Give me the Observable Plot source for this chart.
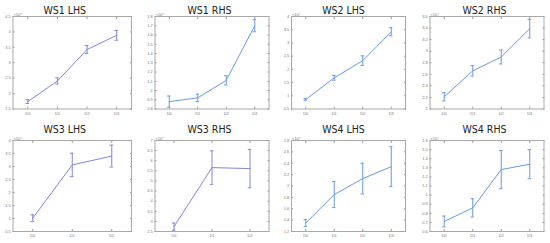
<!DOCTYPE html>
<html><head><meta charset="utf-8">
<script src="https://cdn.jsdelivr.net/npm/d3@7"></script>
<script src="https://cdn.jsdelivr.net/npm/@observablehq/plot@0.6"></script>
<style>
body{margin:0;background:#fff;}
#chart{position:relative;width:550px;height:243px;overflow:hidden;background:#fff;}
#chart > div{position:absolute;}
</style></head><body><div id="chart"></div>
<script>
// ---- data (values in units of 10^4) ----
const panelTitles = ["WS1 LHS","WS1 RHS","WS2 LHS","WS2 RHS","WS3 LHS","WS3 RHS","WS4 LHS","WS4 RHS"];
const days4 = ["D0","D1","D2","D3"];
const days3 = ["D0","D1","D2"];
const exponentLabel = "×10⁴";

const ws1LhsMean = [1.74, 2.41, 3.43, 3.89];
const ws1LhsErr  = [0.06, 0.10, 0.13, 0.16];
const ws1RhsMean = [0.88, 0.92, 1.11, 1.70];
const ws1RhsErr  = [0.06, 0.04, 0.05, 0.065];
const ws2LhsMean = [0.86, 1.68, 2.33, 3.42];
const ws2LhsErr  = [0.03, 0.09, 0.18, 0.15];
const ws2RhsMean = [2.21, 2.66, 2.90, 3.39];
const ws2RhsErr  = [0.07, 0.09, 0.12, 0.16];
const ws3LhsMean = [1.01, 3.06, 3.40];
const ws3LhsErr  = [0.13, 0.45, 0.42];
const ws3RhsMean = [2.74, 5.66, 5.61];
const ws3RhsErr  = [0.18, 0.83, 0.95];
const ws4LhsMean = [1.35, 1.85, 2.13, 2.34];
const ws4LhsErr  = [0.06, 0.23, 0.27, 0.35];
const ws4RhsMean = [0.71, 0.86, 1.28, 1.34];
const ws4RhsErr  = [0.06, 0.10, 0.21, 0.16];

const ws1LhsTicks = [1.5, 2, 2.5, 3, 3.5, 4, 4.5];
const ws1RhsTicks = [0.8, 0.9, 1, 1.1, 1.2, 1.3, 1.4, 1.5, 1.6, 1.7, 1.8];
const ws2LhsTicks = [0.5, 1, 1.5, 2, 2.5, 3, 3.5, 4];
const ws2RhsTicks = [2, 2.2, 2.4, 2.6, 2.8, 3, 3.2, 3.4, 3.6];
const ws3LhsTicks = [0.5, 1, 1.5, 2, 2.5, 3, 3.5, 4];
const ws3RhsTicks = [2.5, 3, 3.5, 4, 4.5, 5, 5.5, 6, 6.5, 7];
const ws4LhsTicks = [1.2, 1.4, 1.6, 1.8, 2, 2.2, 2.4, 2.6, 2.8];
const ws4RhsTicks = [0.6, 0.7, 0.8, 0.9, 1, 1.1, 1.2, 1.3, 1.4, 1.5, 1.6];

const panels = [
  {title: panelTitles[0], days: days4, mean: ws1LhsMean, err: ws1LhsErr, ticks: ws1LhsTicks},
  {title: panelTitles[1], days: days4, mean: ws1RhsMean, err: ws1RhsErr, ticks: ws1RhsTicks},
  {title: panelTitles[2], days: days4, mean: ws2LhsMean, err: ws2LhsErr, ticks: ws2LhsTicks},
  {title: panelTitles[3], days: days4, mean: ws2RhsMean, err: ws2RhsErr, ticks: ws2RhsTicks},
  {title: panelTitles[4], days: days3, mean: ws3LhsMean, err: ws3LhsErr, ticks: ws3LhsTicks},
  {title: panelTitles[5], days: days3, mean: ws3RhsMean, err: ws3RhsErr, ticks: ws3RhsTicks},
  {title: panelTitles[6], days: days4, mean: ws4LhsMean, err: ws4LhsErr, ticks: ws4LhsTicks},
  {title: panelTitles[7], days: days4, mean: ws4RhsMean, err: ws4RhsErr, ticks: ws4RhsTicks}
];

// ---- layout / style ----
const colLeft = [0, 137.5, 275, 412.5];
const colW = 137.5;
const colMarginL = [12.5, 16.5, 16, 16.5];
const colMarginR = [6.5, 7, 7.5, 7];
const colTitleDx = [-7.5, -2.5, -5, -2.5];
const rowTop = [0, 121.5];
const rowH = 121.5;
const rowMarginT = [16, 18];
const rowMarginB = [13, 12.5];
const rowTitleY = [9.7, 6.8];
const lineColors = ["#8286dc", "#679ae6", "#679ae6", "#679ae6", "#8286dc", "#8286dc", "#679ae6", "#679ae6"];
const titleFont = "'Liberation Sans Narrow', 'Arial Narrow', 'DejaVu Sans Condensed', sans-serif";
const tickFont = "'Liberation Sans', Arial, sans-serif";

const chart = document.getElementById("chart");
panels.forEach((p, k) => {
  const col = k % 4, row = Math.floor(k / 4);
  const data = p.mean.map((v, i) => ({i, v, e: p.err[i]}));
  const n = p.days.length;
  const cap = n === 4 ? 0.06 : 0.045;
  const color = lineColors[k];
  const ext = d3.extent(p.ticks);
  const svg = Plot.plot({
    width: colW, height: rowH,
    marginLeft: colMarginL[col], marginRight: colMarginR[col],
    marginTop: rowMarginT[row], marginBottom: rowMarginB[row],
    x: {domain: [-0.5, n - 0.5], axis: null},
    y: {domain: ext, axis: null},
    style: {background: "transparent", overflow: "visible"},
    marks: [
      Plot.axisY({anchor: "left", ticks: p.ticks, tickSize: -2, tickPadding: 4.2, tickFormat: d3.format("~g"),
        fontSize: 4, fill: "#777", stroke: "#999", label: null, fontFamily: tickFont}),
      Plot.axisY({anchor: "right", ticks: p.ticks, tickSize: -2, tickFormat: () => "", stroke: "#999", label: null}),
      Plot.axisX({anchor: "bottom", ticks: d3.range(n), tickSize: -2, tickPadding: 5, tickFormat: i => p.days[i],
        fontSize: 4, fill: "#777", stroke: "#999", label: null, fontFamily: tickFont}),
      Plot.axisX({anchor: "top", ticks: d3.range(n), tickSize: -2, tickFormat: () => "", stroke: "#999", label: null}),
      Plot.frame({stroke: "#a8a8a8", strokeWidth: 1}),
      Plot.text([exponentLabel], {frameAnchor: "top-left", text: d => d, textAnchor: "start", lineAnchor: "bottom",
        dy: -0.5, dx: 0.5, fontSize: 4, fill: "#777", fontFamily: tickFont}),
      Plot.text([p.title], {frameAnchor: "top", text: d => d, lineAnchor: "middle",
        dx: colTitleDx[col], dy: rowTitleY[row] - rowMarginT[row], fontSize: 10.5, fill: "#222", fontFamily: titleFont}),
      Plot.line(data, {x: "i", y: "v", stroke: color, strokeWidth: 1}),
      Plot.ruleX(data, {x: "i", y1: d => d.v - d.e, y2: d => d.v + d.e, stroke: color, strokeWidth: 1}),
      Plot.ruleY(data, {y: d => d.v + d.e, x1: d => d.i - cap, x2: d => d.i + cap, stroke: color, strokeWidth: 1}),
      Plot.ruleY(data, {y: d => d.v - d.e, x1: d => d.i - cap, x2: d => d.i + cap, stroke: color, strokeWidth: 1})
    ]
  });
  const holder = document.createElement("div");
  holder.style.left = colLeft[col] + "px";
  holder.style.top = rowTop[row] + "px";
  holder.appendChild(svg);
  chart.appendChild(holder);
});
</script>
</body></html>
